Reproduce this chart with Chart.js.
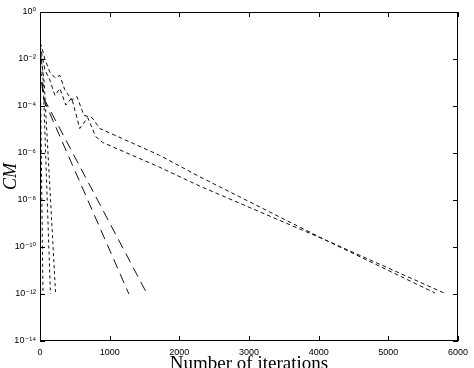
<!DOCTYPE html>
<html><head><meta charset="utf-8">
<script src="https://cdn.jsdelivr.net/npm/chart.js@4/dist/chart.umd.min.js"></script>
<style>html,body{margin:0;padding:0;background:#fff;overflow:hidden}</style>
</head><body>
<canvas id="c" width="474" height="368"></canvas>
<script>
// ---- data ----
const xTickValues = [0, 1000, 2000, 3000, 4000, 5000, 6000];
const xTickLabels = ['0', '1000', '2000', '3000', '4000', '5000', '6000'];
const yTickValues = [1e0, 1e-2, 1e-4, 1e-6, 1e-8, 1e-10, 1e-12, 1e-14];
const yTickLabels = ['10⁰', '10⁻²', '10⁻⁴', '10⁻⁶', '10⁻⁸', '10⁻¹⁰', '10⁻¹²', '10⁻¹⁴'];

const seriesA_x = [0, 15, 70, 140, 215, 285, 355, 455, 530, 630, 745, 860, 1715, 2285, 4095, 5670];
const seriesA_y = [5.0e-2, 4.0e-2, 1.0e-2, 2.8e-3, 1.6e-3, 2.0e-3, 5.0e-4, 1.8e-4, 2.5e-4, 4.0e-5, 3.2e-5, 1.1e-5, 8.0e-7, 1.0e-7, 2.0e-10, 1.1e-12];

const seriesB_x = [0, 15, 70, 140, 215, 285, 370, 455, 570, 685, 800, 900, 1715, 2285, 4095, 5810];
const seriesB_y = [4.0e-2, 2.5e-2, 3.5e-3, 1.3e-3, 2.8e-4, 5.6e-4, 1.1e-4, 2.2e-4, 1.1e-5, 3.2e-5, 5.0e-6, 2.8e-6, 2.5e-7, 4.0e-8, 2.0e-10, 1.07e-12];

const seriesC_x = [0, 50, 1276];
const seriesC_y = [5.0e-3, 2.0e-4, 1.0e-12];

const seriesD_x = [0, 60, 1538];
const seriesD_y = [5.0e-3, 2.0e-4, 1.0e-12];

const seriesE_x = [0, 43];
const seriesE_y = [3.0e-2, 1.0e-12];

const seriesF_x = [0, 40, 150];
const seriesF_y = [3.0e-2, 3.2e-3, 1.0e-12];

const seriesG_x = [0, 60, 225];
const seriesG_y = [2.5e-2, 1.0e-3, 9.0e-13];

// ---- build datasets ----
function pts(xs, ys) { return xs.map((x, i) => ({x: x, y: ys[i]})); }
function ds(xs, ys, dash) {
  return {data: pts(xs, ys), borderColor: '#111', borderWidth: 1, borderDash: dash,
          pointRadius: 0, fill: false, tension: 0};
}

const boxTicks = {
  id: 'boxTicks',
  afterDraw(chart) {
    const {ctx, chartArea: a, scales} = chart;
    ctx.save();
    ctx.strokeStyle = '#000';
    ctx.lineWidth = 1;
    ctx.strokeRect(Math.round(a.left) + 0.5, Math.round(a.top) + 0.5,
                   Math.round(a.right - a.left) - 1, Math.round(a.bottom - a.top) - 1);
    const L = 5;
    ctx.beginPath();
    xTickValues.forEach(v => {
      const px = Math.round(scales.x.getPixelForValue(v)) + 0.5;
      ctx.moveTo(px, a.bottom); ctx.lineTo(px, a.bottom - L);
      ctx.moveTo(px, a.top); ctx.lineTo(px, a.top + L);
    });
    yTickValues.forEach(v => {
      const py = Math.round(scales.y.getPixelForValue(v)) + 0.5;
      ctx.moveTo(a.left, py); ctx.lineTo(a.left + L, py);
      ctx.moveTo(a.right, py); ctx.lineTo(a.right - L, py);
    });
    ctx.stroke();
    ctx.restore();
  }
};

new Chart(document.getElementById('c'), {
  type: 'line',
  data: {
    datasets: [
      ds(seriesA_x, seriesA_y, [4, 3]),
      ds(seriesB_x, seriesB_y, [4, 3]),
      ds(seriesC_x, seriesC_y, [10, 6]),
      ds(seriesD_x, seriesD_y, [10, 6]),
      ds(seriesE_x, seriesE_y, [3, 3]),
      ds(seriesF_x, seriesF_y, [3, 3]),
      ds(seriesG_x, seriesG_y, [3, 3])
    ]
  },
  options: {
    responsive: false,
    animation: false,
    devicePixelRatio: 1,
    layout: {padding: {top: 12, right: 14, left: 0, bottom: 0}},
    plugins: {legend: {display: false}, tooltip: {enabled: false}},
    scales: {
      x: {
        type: 'linear', min: 0, max: 6000,
        grid: {display: false, drawTicks: false},
        border: {display: false},
        ticks: {color: '#000', padding: 6, maxRotation: 0,
                font: {family: 'Liberation Sans, Arial, sans-serif', size: 9},
                callback: (v) => { const i = xTickValues.indexOf(v); return i >= 0 ? xTickLabels[i] : ''; }},
        afterBuildTicks: s => { s.ticks = xTickValues.map(v => ({value: v})); },
        title: {display: true, text: 'Number of iterations', color: '#000',
                font: {family: 'Liberation Serif, Times New Roman, serif', size: 19},
                padding: {top: 0, bottom: -7}},
        afterFit: s => { s.height = 27; }
      },
      y: {
        type: 'logarithmic', min: 1e-14, max: 1,
        grid: {display: false, drawTicks: false},
        border: {display: false},
        ticks: {color: '#000', padding: 4,
                font: {family: 'Liberation Sans, DejaVu Sans, sans-serif', size: 9},
                callback: (v) => { const i = yTickValues.indexOf(v); return i >= 0 ? yTickLabels[i] : ''; }},
        afterBuildTicks: s => { s.ticks = yTickValues.map(v => ({value: v})); },
        title: {display: true, text: 'CM', color: '#000',
                font: {family: 'Liberation Serif, Times New Roman, serif', size: 18, style: 'italic'},
                padding: {top: 0, bottom: 0}},
        afterFit: s => { s.width = 40; }
      }
    }
  },
  plugins: [boxTicks]
});
</script>
</body></html>
